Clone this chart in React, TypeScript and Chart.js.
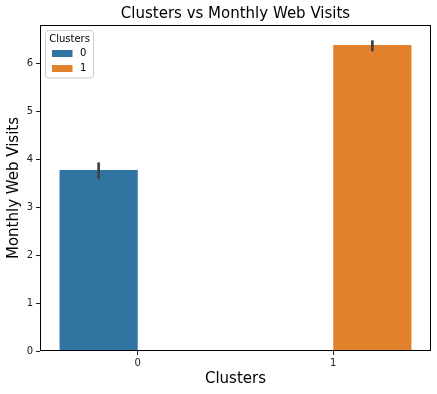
import React, { useEffect, useRef } from 'react';
import { Chart, registerables } from 'chart.js';

Chart.register(...registerables);

const categories = ['0', '1'];
const hueLabels = ['0', '1'];
const hueColors = ['#3274a1', '#e1812c'];
const meansHue0 = [3.78, null];
const meansHue1 = [null, 6.39];
const errLow = [3.59, 6.26];
const errHigh = [3.94, 6.49];
const yTicksMax = 6.81;

const FONT = "'DejaVu Sans', sans-serif";

const errorBarPlugin = {
  id: 'errorBars',
  afterDatasetsDraw(chart: any) {
    const ctx = chart.ctx;
    const y = chart.scales.y;
    ctx.save();
    ctx.strokeStyle = '#424242';
    ctx.lineWidth = 2.7;
    categories.forEach((_, j) => {
      const meta = chart.getDatasetMeta(j);
      const bar = meta.data[j];
      if (!bar) return;
      ctx.beginPath();
      ctx.moveTo(bar.x, y.getPixelForValue(errLow[j]));
      ctx.lineTo(bar.x, y.getPixelForValue(errHigh[j]));
      ctx.stroke();
    });
    ctx.restore();
  },
  afterDraw(chart: any) {
    const ctx = chart.ctx;
    const a = chart.chartArea;
    ctx.save();
    // spines
    ctx.strokeStyle = '#000';
    ctx.lineWidth = 1;
    ctx.strokeRect(Math.round(a.left) + 0.5, Math.round(a.top) + 0.5, Math.round(a.right - a.left) - 1, Math.round(a.bottom - a.top) - 1);
    // legend
    const lx = a.left + 5.5;
    const ly = a.top + 5.5;
    ctx.beginPath();
    (ctx as any).roundRect(lx, ly, 48, 47.5, 3);
    ctx.fillStyle = 'rgba(255,255,255,0.8)';
    ctx.fill();
    ctx.strokeStyle = '#cccccc';
    ctx.lineWidth = 1;
    ctx.stroke();
    ctx.fillStyle = '#000';
    ctx.font = `10px ${FONT}`;
    ctx.textAlign = 'center';
    ctx.textBaseline = 'middle';
    ctx.fillText('Clusters', lx + 24, ly + 8.5);
    hueLabels.forEach((lab, i) => {
      const py = ly + 19.5 + i * 15;
      ctx.fillStyle = hueColors[i];
      ctx.fillRect(lx + 6.5, py, 20.5, 7);
      ctx.fillStyle = '#000';
      ctx.textAlign = 'left';
      ctx.fillText(lab, lx + 34.5, py + 3.8);
    });
    ctx.restore();
  },
};

export default function App() {
  const ref = useRef<HTMLCanvasElement>(null);
  useEffect(() => {
    document.body.style.margin = '0';
    const chart = new Chart(ref.current!, {
      type: 'bar',
      data: {
        labels: categories,
        datasets: [
          { label: hueLabels[0], data: meansHue0, backgroundColor: hueColors[0], categoryPercentage: 0.8, barPercentage: 1.0 },
          { label: hueLabels[1], data: meansHue1, backgroundColor: hueColors[1], categoryPercentage: 0.8, barPercentage: 1.0 },
        ],
      },
      options: {
        responsive: false,
        animation: false,
        layout: { padding: { top: 0, right: 6, bottom: 0, left: 0 } },
        plugins: {
          legend: { display: false },
          tooltip: { enabled: false },
          title: {
            display: true,
            text: 'Clusters vs Monthly Web Visits',
            fullSize: false,
            color: '#000',
            font: { family: FONT, size: 15, weight: 'normal' },
            padding: { top: 5, bottom: 2 },
          },
        },
        scales: {
          x: {
            type: 'category',
            offset: true,
            border: { display: false },
            grid: { offset: false, drawOnChartArea: false, drawTicks: true, tickLength: 4, color: '#222' },
            ticks: { padding: 2, color: '#222', font: { family: FONT, size: 10 } },
            title: {
              display: true,
              text: 'Clusters',
              color: '#000',
              font: { family: FONT, size: 15 },
              padding: { top: 0, bottom: 6 },
            },
            afterFit: (s: any) => { s.height = 43; },
          },
          y: {
            min: 0,
            max: yTicksMax,
            border: { display: false },
            grid: { drawOnChartArea: false, drawTicks: true, tickLength: 4, color: '#222' },
            ticks: { stepSize: 1, includeBounds: false, padding: 3, color: '#222', font: { family: FONT, size: 10 } },
            title: {
              display: true,
              text: 'Monthly Web Visits',
              color: '#000',
              font: { family: FONT, size: 15 },
              padding: { top: 5, bottom: 0 },
            },
            afterFit: (s: any) => { s.width = 40; },
          },
        },
      } as any,
      plugins: [errorBarPlugin],
    });
    return () => chart.destroy();
  }, []);
  return (
    <div style={{ width: 437, height: 394 }}>
      <canvas ref={ref} width={437} height={394} />
    </div>
  );
}
